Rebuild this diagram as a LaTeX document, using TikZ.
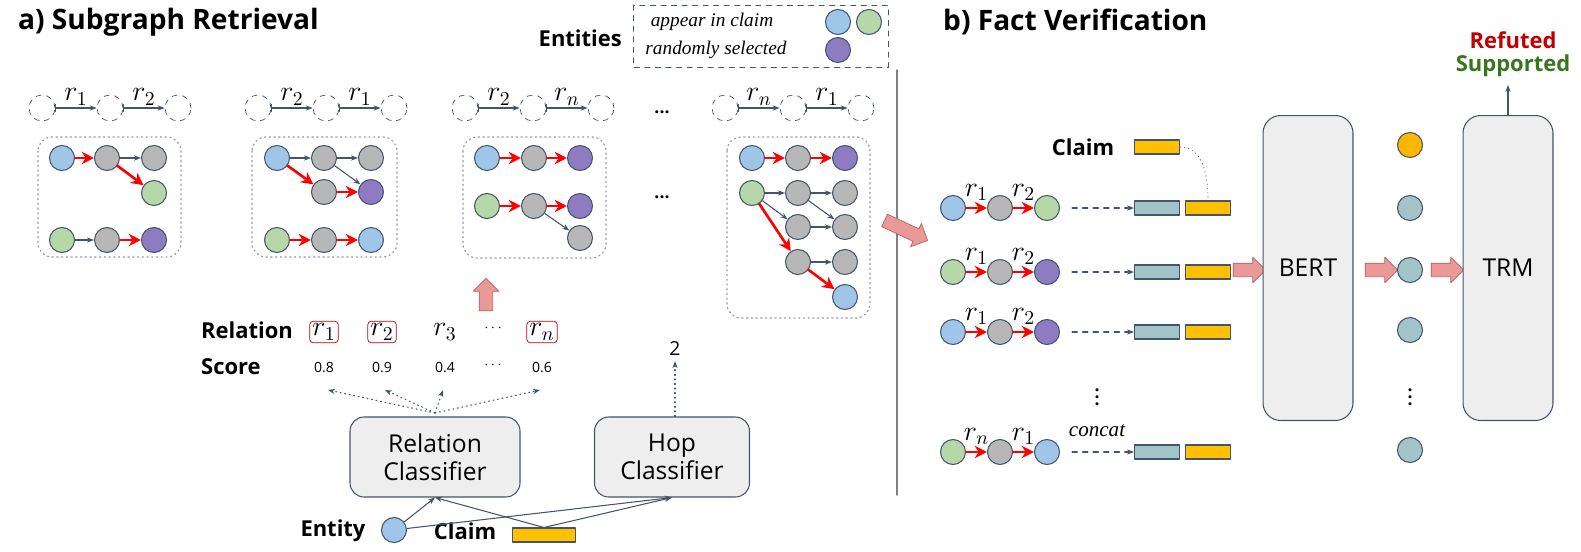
\RequirePackage{fix-cm}
\documentclass[tikz,border=0pt]{standalone}
\usepackage{fontspec}
\setmainfont{Open Sans}
\newfontfamily\serifit{Liberation Serif}
\usepackage{xcolor}
\usepackage{tikz}
\usetikzlibrary{arrows.meta, positioning, calc, shapes.arrows}
\definecolor{eblue}{HTML}{9FC5E8}
\definecolor{egreen}{HTML}{B6D7A8}
\definecolor{epurple}{HTML}{8E7CC3}
\definecolor{egray}{HTML}{B7B7B7}
\definecolor{edge}{HTML}{44546A}
\definecolor{claimy}{HTML}{FFC000}
\definecolor{pathteal}{HTML}{A2C4C9}
\definecolor{pinkarr}{HTML}{EA9999}
\definecolor{pinkline}{HTML}{B45F5F}
\definecolor{boxgray}{HTML}{EEEEEE}
\definecolor{refred}{HTML}{C00000}
\definecolor{supgreen}{HTML}{38761D}

\tikzset{
  ent/.style={circle, draw=edge, minimum size=0.5cm, inner sep=0pt, line width=0.6pt},
  blu/.style={ent, fill=eblue}, grn/.style={ent, fill=egreen},
  pur/.style={ent, fill=epurple}, gry/.style={ent, fill=egray},
  pat/.style={circle, draw=edge, dashed, minimum size=0.52cm, inner sep=0pt},
  patarr/.style={{Bar[width=4pt]}-{Stealth[length=4pt]}, draw=edge, line width=0.6pt},
  thin/.style={-{Stealth[length=4pt]}, draw=edge, line width=0.6pt},
  hop/.style={-{Stealth[length=7pt,width=7pt]}, draw=red, line width=1.5pt},
  gbox/.style={draw=edge!60, dotted, rounded corners=8pt, line width=0.7pt},
  bar/.style={draw=edge, line width=0.6pt, minimum width=0.9cm, minimum height=0.28cm, inner sep=0pt},
  cls/.style={draw=edge, fill=boxgray, rounded corners=8pt, line width=0.6pt, align=center,
    font=\fontsize{14}{16}\selectfont, minimum width=3.4cm, minimum height=1.6cm},
  tall/.style={draw=edge, fill=boxgray, rounded corners=10pt, line width=0.6pt,
    font=\fontsize{14}{16}\selectfont, minimum width=1.8cm, minimum height=6.1cm},
  block/.style={single arrow, draw=pinkline, fill=pinkarr, minimum height=0.65cm,
    single arrow head extend=0.12cm, inner sep=0.13cm},
  lab/.style={font=\fontsize{12.5}{14}\selectfont\bfseries},
  rel/.style={font=\fontsize{16}{18}\selectfont},
}

\begin{document}
\begin{tikzpicture}[x=0.02cm, y=-0.02cm, line cap=round, line join=round]
  \useasboundingbox (0,0) rectangle (1581,551);

  % -- titles --
  \node[font=\fontsize{16}{18}\selectfont\bfseries, anchor=west] (ta) at (12,22) {a) Subgraph Retrieval};
  \node[font=\fontsize{16}{18}\selectfont\bfseries, anchor=west] (tb) at (937,22) {b) Fact Verification};

  % -- legend --
  \node[lab, anchor=east] (entl) at (628,38) {Entities};
  \draw[dashed, edge] (633,5) rectangle (888,67);
  \node[font=\serifit\itshape\fontsize{11}{13}\selectfont] (lg1) at (712,22) {appear in claim};
  \node[font=\serifit\itshape\fontsize{11}{13}\selectfont] (lg2) at (716,50) {randomly selected};
  \node[blu] (lb) at (838,22) {};
  \node[grn] (lgr) at (869,22) {};
  \node[pur] (lp) at (838,50) {};

  \draw[gray, line width=0.8pt] (897,70) -- (897,495);

  % -- relation patterns --
  \foreach \c/\x/\ra/\rb in {1/42/r_1/r_2, 2/258/r_2/r_1, 3/465/r_2/r_n, 4/725/r_n/r_1} {
    \node[pat] (p\c a) at (\x,108) {};
    \node[pat] (p\c b) at (\x+68,108) {};
    \node[pat] (p\c c) at (\x+136,108) {};
    \draw[patarr] (p\c a) -- node[above=-2pt, rel] {$\ra$} (p\c b);
    \draw[patarr] (p\c b) -- node[above=-2pt, rel] {$\rb$} (p\c c);
  }
  \node[font=\bfseries] (dt1) at (662,112) {...};
  \node[font=\bfseries] (dt2) at (662,197) {...};

  % -- subgraph 1 --
  \draw[gbox] (38,137) rectangle (181,257);
  \node[blu] (a1) at (62,158) {};  \node[gry] (a2) at (107,158) {}; \node[gry] (a3) at (154,158) {};
  \node[grn] (a4) at (154,193) {};
  \node[grn] (a5) at (62,240) {};  \node[gry] (a6) at (107,240) {}; \node[pur] (a7) at (154,240) {};
  \draw[hop] (a1) -- (a2); \draw[thin] (a2) -- (a3); \draw[hop] (a2) -- (a4);
  \draw[thin] (a5) -- (a6); \draw[hop] (a6) -- (a7);

  % -- subgraph 2 --
  \draw[gbox] (252,137) rectangle (397,257);
  \node[blu] (b1) at (277,158) {}; \node[gry] (b2) at (324,158) {}; \node[gry] (b3) at (371,158) {};
  \node[gry] (b4) at (324,192) {}; \node[pur] (b5) at (371,192) {};
  \node[grn] (b6) at (277,240) {}; \node[gry] (b7) at (324,240) {}; \node[blu] (b8) at (371,240) {};
  \draw[thin] (b1) -- (b2); \draw[thin] (b2) -- (b3); \draw[hop] (b1) -- (b4);
  \draw[thin] (b2) -- (b5); \draw[hop] (b4) -- (b5);
  \draw[hop] (b6) -- (b7); \draw[hop] (b7) -- (b8);

  % -- subgraph 3 --
  \draw[gbox] (463,137) rectangle (606,258);
  \node[blu] (c1) at (487,158) {}; \node[gry] (c2) at (534,158) {}; \node[pur] (c3) at (580,158) {};
  \node[grn] (c4) at (487,206) {}; \node[gry] (c5) at (534,206) {}; \node[pur] (c6) at (580,206) {};
  \node[gry] (c7) at (580,238) {};
  \draw[hop] (c1) -- (c2); \draw[hop] (c2) -- (c3);
  \draw[hop] (c4) -- (c5); \draw[hop] (c5) -- (c6); \draw[thin] (c5) -- (c7);

  % -- subgraph 4 --
  \draw[gbox] (727,137) rectangle (870,318);
  \node[blu] (d1) at (752,158) {}; \node[gry] (d2) at (798,158) {}; \node[pur] (d3) at (845,158) {};
  \node[grn] (d4) at (752,193) {}; \node[gry] (d5) at (798,193) {}; \node[gry] (d6) at (845,193) {};
  \node[gry] (d7) at (798,227) {}; \node[gry] (d8) at (845,227) {};
  \node[gry] (d9) at (798,262) {}; \node[gry] (d10) at (845,262) {};
  \node[blu] (d11) at (845,297) {};
  \draw[hop] (d1) -- (d2); \draw[hop] (d2) -- (d3);
  \draw[thin] (d4) -- (d5); \draw[thin] (d5) -- (d6); \draw[thin] (d4) -- (d7);
  \draw[thin] (d5) -- (d8); \draw[thin] (d7) -- (d8); \draw[hop] (d4) -- (d9);
  \draw[thin] (d9) -- (d10); \draw[hop] (d9) -- (d11);

  % -- block arrows --
  \node[block, rotate=90] (up) at (486,298) {};
  \node[block, rotate=-25, minimum height=0.95cm] (toB) at (903,229) {};

  % -- relation / score --
  \node[lab, anchor=west] (rell) at (195,330) {Relation};
  \node[lab, anchor=west] (scol) at (195,367) {Score};
  \foreach \n/\x/\r/\s/\bx in {1/324/r_1/0.8/1, 2/382/r_2/0.9/1, 3/445/r_3/0.4/0, n/542/r_n/0.6/1} {
    \ifnum\bx=1
      \node[rel, draw=refred, rounded corners=2pt, inner sep=1.5pt] (r\n) at (\x,332) {$\r$};
    \else
      \node[rel] (r\n) at (\x,332) {$\r$};
    \fi
    \node[font=\footnotesize] (s\n) at (\x,367) {\s};
  }
  \node[font=\footnotesize] (rd) at (493,328) {$\cdots$};
  \node[font=\footnotesize] (sd) at (493,365) {$\cdots$};

  % -- classifiers --
  \node[cls] (relc) at (435,457) {Relation\\Classifier};
  \node[cls, minimum width=3.1cm] (hopc) at (672,457) {Hop\\Classifier};
  \coordinate (rtop) at (435,413);
  \foreach \n/\x in {1/328, 2/385, 3/443, n/540}
    \draw[thin, dotted] (rtop) -- (\x,390);
  \node[font=\fontsize{11}{13}\selectfont] (hopn) at (675,348) {2};
  \draw[thin, dotted] (hopc.north -| hopn) -- (hopn.south);

  % -- inputs --
  \node[lab] (entt) at (333,531) {Entity};
  \node[blu] (entc) at (394,530) {};
  \node[lab] (clt) at (465,531) {Claim};
  \node[bar, fill=claimy, minimum width=1.25cm] (clb) at (544,535) {};
  \draw[thin] (entc) -- (relc.south);
  \draw[thin] (clb.north) -- (relc.south);
  \draw[thin] (entc) -- (hopc.south);
  \draw[thin] (clb.north) -- (hopc.south);

  % -- fact verification paths --
  \node[lab] (clt2) at (1083,147) {Claim};
  \node[bar, fill=claimy] (clb2) at (1157,147) {};
  \foreach \n/\y/\ca/\cb/\ra/\rb in {1/208/blu/grn/r_1/r_2, 2/272/grn/pur/r_1/r_2,
                                     3/332/blu/pur/r_1/r_2, 4/452/grn/blu/r_n/r_1} {
    \node[\ca] (f\n a) at (953,\y) {};
    \node[gry] (f\n b) at (1000,\y) {};
    \node[\cb] (f\n c) at (1047,\y) {};
    \draw[hop] (f\n a) -- node[above=0pt, rel] {$\ra$} (f\n b);
    \draw[hop] (f\n b) -- node[above=0pt, rel] {$\rb$} (f\n c);
    \node[bar, fill=pathteal] (e\n) at (1157,\y) {};
    \node[bar, fill=claimy, right=0.1cm of e\n] (q\n) {};
    \draw[thin, dashed] ($(f\n c.east)+(12,0)$) -- (e\n.west);
  }
  \node[font=\serifit\itshape\fontsize{12}{14}\selectfont] (cc) at (1097,431) {concat};
  \node[font=\bfseries, inner sep=0pt] (vd) at (1097,392) {$\vdots$};
  \draw[dotted, edge] (clb2.east) to[out=0, in=90] (q1.north);

  \node[block] (toBert) at (1246,270) {};
  \node[tall] (bert) at (1308,268) {BERT};
  \node[block] (toOut) at (1378,270) {};
  \node[ent, fill=claimy!85!orange] (o1) at (1410,145) {};
  \foreach \n/\y in {2/208, 3/270, 4/330, 5/450}
    \node[ent, fill=pathteal] (o\n) at (1410,\y) {};
  \node[font=\bfseries, inner sep=0pt] (od) at (1410,392) {$\vdots$};
  \node[block] (toTrm) at (1444,270) {};
  \node[tall] (trm) at (1508,268) {TRM};
  \node[lab, text=refred] (refl) at (1513,40) {Refuted};
  \node[lab, text=supgreen] (supl) at (1513,66) {Supported};
  \draw[thin] (trm.north) -- ($(trm.north)+(0,-30)$);
\end{tikzpicture}
\end{document}
